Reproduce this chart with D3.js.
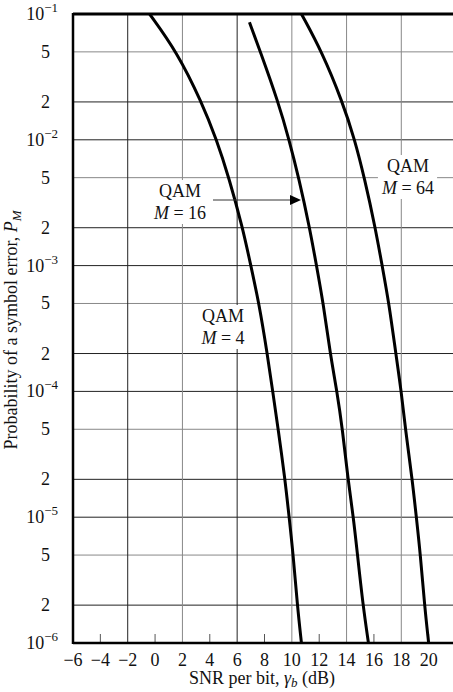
<!DOCTYPE html>
<html>
<head>
<meta charset="utf-8">
<script src="https://cdn.jsdelivr.net/npm/d3@7"></script>
<style>
body { margin: 0; background: #fff; }
text { font-family: "Liberation Serif", "DejaVu Serif", serif; fill: #111; }
</style>
</head>
<body>
<svg id="chart" width="453" height="692"></svg>
<script>
// error probabilities read at each grid level
var probs = [1e-1, 5e-2, 2e-2, 1e-2, 5e-3, 2e-3, 1e-3, 5e-4, 2e-4, 1e-4, 5e-5, 2e-5, 1e-5, 5e-6, 2e-6, 1e-6];
// SNR per bit (dB) for each curve at those levels
var qam4 = [-0.4, 1.6, 3.4, 4.5, 5.4, 6.4, 7.0, 7.6, 8.2, 8.6, 9.0, 9.5, 9.8, 10.1, 10.4, 10.7];
var qam16 = [null, 7.7, 9.0, 9.8, 10.5, 11.3, 11.8, 12.3, 12.8, 13.3, 13.7, 14.1, 14.5, 14.8, 15.2, 15.6];
var qam16Start = {x: 6.9, y: 0.086};
var qam64 = [10.7, 12.2, 13.7, 14.6, 15.3, 16.1, 16.6, 17.1, 17.6, 18.0, 18.3, 18.8, 19.1, 19.4, 19.7, 20.0];
var xTicks = [-6, -4, -2, 0, 2, 4, 6, 8, 10, 12, 14, 16, 18, 20];
var xGrid = [-2, 2, 6, 10, 14, 18];
var decades = [-1, -2, -3, -4, -5, -6];

var svg = d3.select("#chart");
var x = d3.scaleLinear().domain([-6, 22]).range([73, 456]);
var y = d3.scaleLog().domain([1e-6, 1e-1]).range([643, 14]);

// horizontal grid
var hLines = [];
decades.forEach(function(d) {
    hLines.push({v: Math.pow(10, d), dark: true});
    if (d > -6) {
        hLines.push({v: 2 * Math.pow(10, d - 1), dark: true});
        hLines.push({v: 5 * Math.pow(10, d - 1), dark: false});
    }
});
svg.selectAll(".hg").data(hLines).enter().append("line")
    .attr("x1", 73).attr("x2", 453)
    .attr("y1", function(d) { return y(d.v); })
    .attr("y2", function(d) { return y(d.v); })
    .attr("stroke", function(d) { return d.dark ? "#222" : "#888"; })
    .attr("stroke-width", 1);

svg.selectAll(".vg").data(xGrid).enter().append("line")
    .attr("x1", function(d) { return x(d); }).attr("x2", function(d) { return x(d); })
    .attr("y1", 14).attr("y2", 643)
    .attr("stroke", function(d) { return (d === -2 || d === 6) ? "#222" : "#888"; })
    .attr("stroke-width", 1);

// small bottom ticks
svg.selectAll(".bt").data(xTicks.filter(function(d) { return xGrid.indexOf(d) < 0 && d > -6; }))
    .enter().append("line")
    .attr("x1", function(d) { return x(d); }).attr("x2", function(d) { return x(d); })
    .attr("y1", 643).attr("y2", 634)
    .attr("stroke", "#555");

// frame
svg.append("line").attr("x1", 73).attr("x2", 453).attr("y1", 14).attr("y2", 14).attr("stroke", "#000").attr("stroke-width", 3);
svg.append("line").attr("x1", 73).attr("x2", 453).attr("y1", 643).attr("y2", 643).attr("stroke", "#000").attr("stroke-width", 2.5);
svg.append("line").attr("x1", 73).attr("x2", 73).attr("y1", 13).attr("y2", 644).attr("stroke", "#000").attr("stroke-width", 2.5);

// curves
var line = d3.line()
    .x(function(d) { return x(d[0]); })
    .y(function(d) { return y(d[1]); })
    .curve(d3.curveBasis);
function series(vals) {
    var pts = [];
    vals.forEach(function(v, i) { if (v !== null) pts.push([v, probs[i]]); });
    return pts;
}
var s16 = [[qam16Start.x, qam16Start.y]].concat(series(qam16));
[series(qam4), s16, series(qam64)].forEach(function(pts) {
    svg.append("path").attr("d", line(pts))
        .attr("fill", "none").attr("stroke", "#000").attr("stroke-width", 3);
});

// x tick labels
svg.selectAll(".xl").data(xTicks).enter().append("text")
    .attr("x", function(d) { return x(d); }).attr("y", 666)
    .attr("text-anchor", "middle").attr("font-size", 18)
    .text(function(d) { return d < 0 ? "\u2212" + Math.abs(d) : d; });

// y tick labels
decades.forEach(function(d) {
    var t = svg.append("text").attr("x", 58).attr("y", y(Math.pow(10, d)) + 6)
        .attr("text-anchor", "end").attr("font-size", 18);
    t.append("tspan").text("10");
    t.append("tspan").attr("dy", -8).attr("font-size", 13).text("\u2212" + Math.abs(d));
    if (d > -6) {
        [5, 2].forEach(function(m) {
            svg.append("text").attr("x", 50).attr("y", y(m * Math.pow(10, d - 1)) + 6)
                .attr("text-anchor", "end").attr("font-size", 18).text(m);
        });
    }
});

// axis titles
var xt = svg.append("text").attr("x", 262).attr("y", 684).attr("text-anchor", "middle").attr("font-size", 18);
xt.append("tspan").text("SNR per bit, ");
xt.append("tspan").attr("font-style", "italic").text("\u03b3");
xt.append("tspan").attr("font-style", "italic").attr("font-size", 13).attr("dy", 3).text("b");
xt.append("tspan").attr("dy", -3).text(" (dB)");

var yt = svg.append("text").attr("transform", "translate(17,330) rotate(-90)")
    .attr("text-anchor", "middle").attr("font-size", 18);
yt.append("tspan").text("Probability of a symbol error, ");
yt.append("tspan").attr("font-style", "italic").text("P");
yt.append("tspan").attr("font-style", "italic").attr("font-size", 13).attr("dy", 4).text("M");

// curve labels
function label(cx, cy, m) {
    var bg = svg.append("rect").attr("fill", "#fff");
    var g = svg.append("g");
    g.append("text").attr("x", cx).attr("y", cy).attr("text-anchor", "middle").attr("font-size", 18).text("QAM");
    var t = g.append("text").attr("x", cx).attr("y", cy + 22).attr("text-anchor", "middle").attr("font-size", 18);
    t.append("tspan").attr("font-style", "italic").text("M");
    t.append("tspan").text(" = " + m);
    var b = g.node().getBBox();
    bg.attr("x", b.x - 3).attr("y", b.y - 1).attr("width", b.width + 6).attr("height", b.height + 2);
}
label(180, 197, 16);
label(408, 172, 64);
label(223, 322, 4);

// arrow to the M = 16 curve
svg.append("line").attr("x1", 213).attr("x2", 294).attr("y1", 200).attr("y2", 200).attr("stroke", "#333");
svg.append("path").attr("d", "M301,200 L290,195 L290,205 Z").attr("fill", "#000");
</script>
</body>
</html>
